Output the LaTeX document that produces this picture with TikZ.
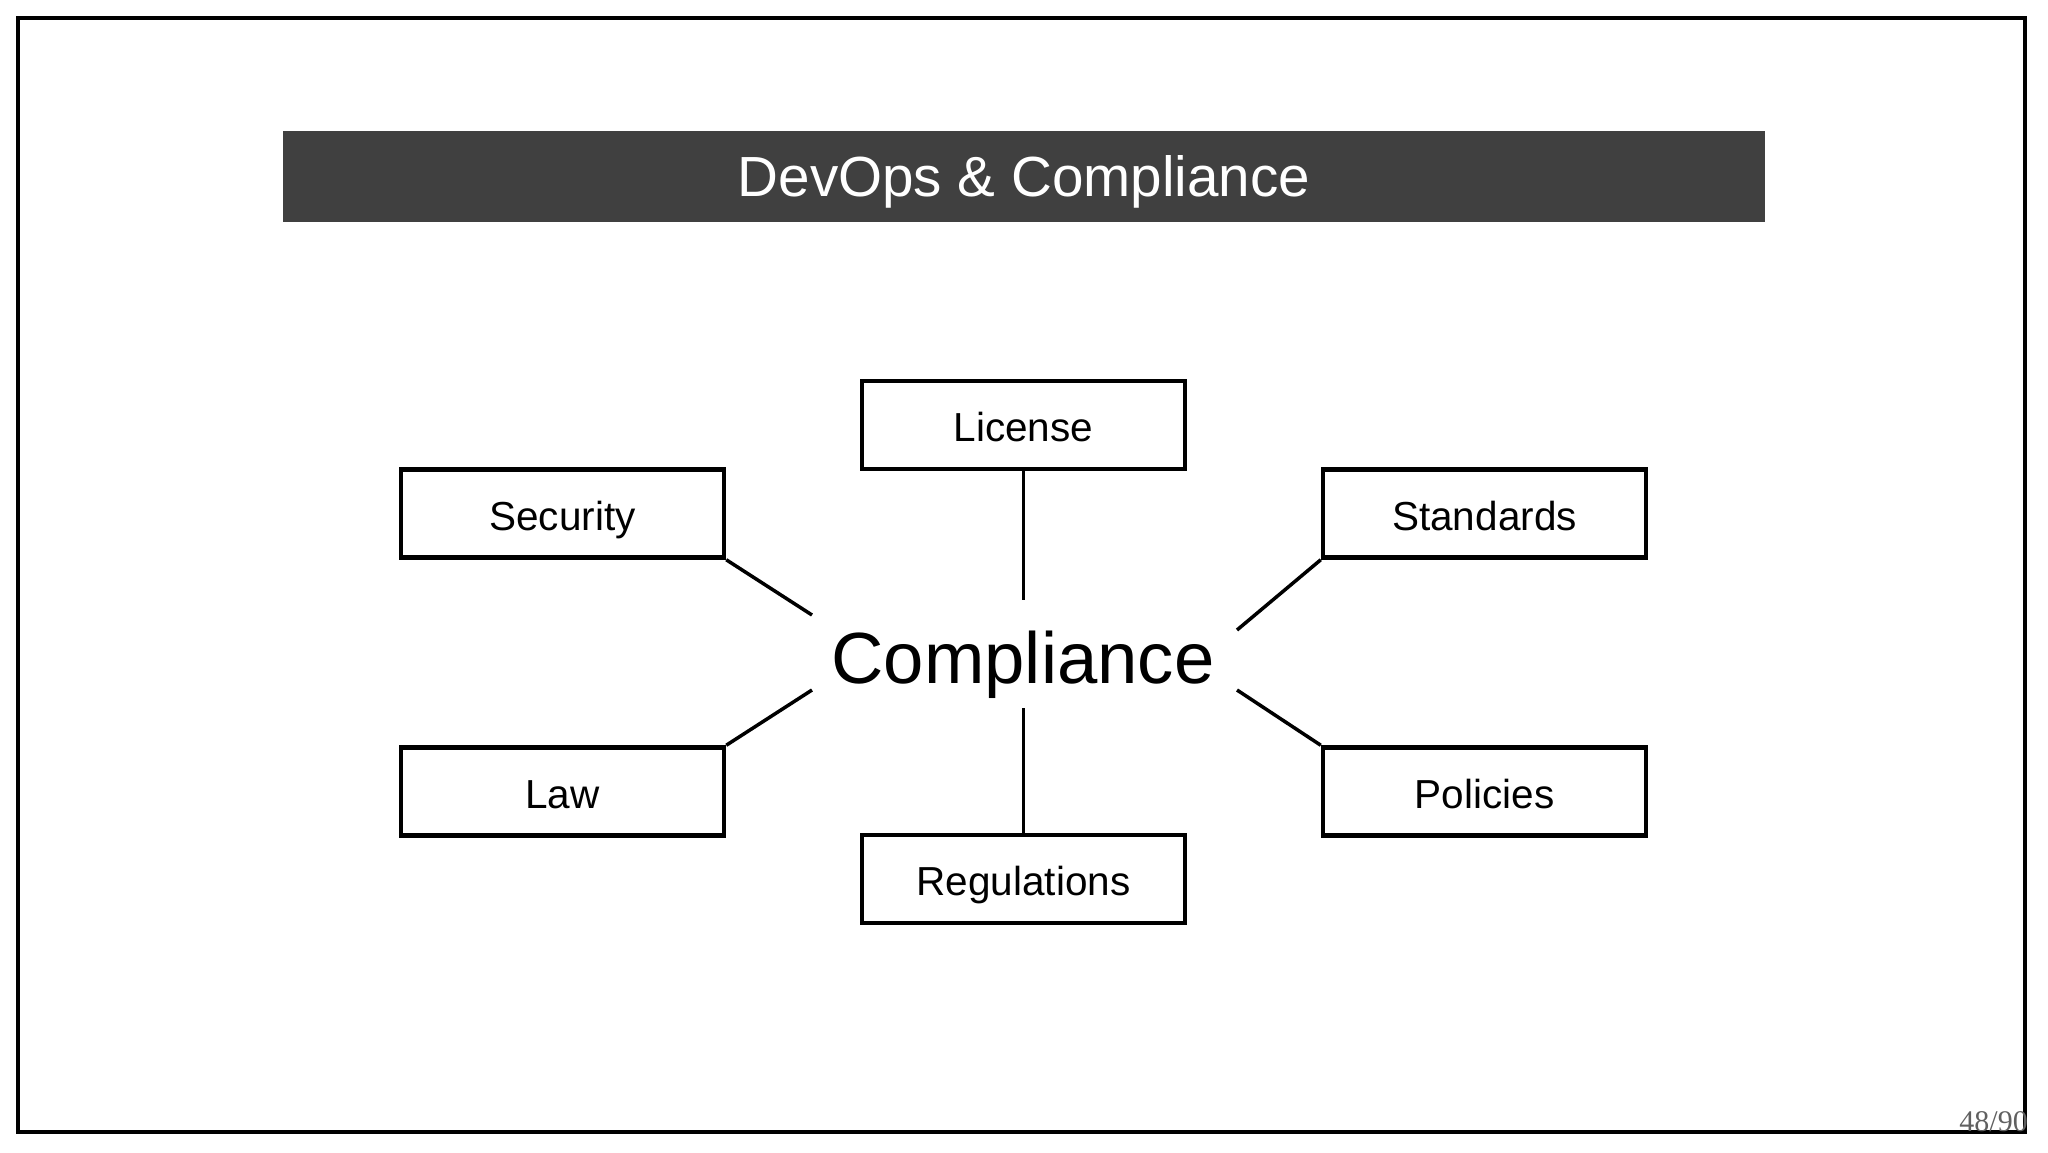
\documentclass[tikz,border=0pt]{standalone}
\usepackage{fontspec}
\setmainfont{Liberation Sans}
\newfontfamily\pagenofont{Liberation Serif}
\usepackage{xcolor}
\usetikzlibrary{positioning}
\definecolor{titlecolor}{RGB}{64,64,64}
\definecolor{pagenocolor}{RGB}{96,96,96}

\begin{document}
\begin{tikzpicture}[
    x=1pt, y=-1pt,
    topic/.style={rectangle, draw, line width=4.5pt, minimum width=323pt, minimum height=88pt, inner sep=0pt, text height=33pt, text depth=0pt, font=\fontsize{40.5}{46}\selectfont},
    link/.style={line width=3.5pt},
    titlebar/.style={rectangle, fill=titlecolor, text=white, minimum width=1482pt, minimum height=91pt, inner sep=0pt, text height=39pt, text depth=0pt, font=\fontsize{56.6}{64}\selectfont}
]
\useasboundingbox (0,0) rectangle (2048,1152);

% Slide frame
\draw[line width=3.5pt] (18,18) rectangle (2025,1132);

% Title
\node[titlebar] (title) at (1024,176.5) {DevOps \& Compliance};

% Centre word
\node[inner sep=0pt, text height=49.7pt, text depth=0pt, font=\fontsize{72.5}{80}\selectfont] (compliance) at (1023,658.5) {Compliance};

% Topics round the centre
\node[topic] (license) at (1023.5,425) {License};
\node[topic] (security) at (562.5,513.5) {Security};
\node[topic] (standards) at (1484.5,513.5) {Standards};
\node[topic] (law) at (562.5,791.5) {Law};
\node[topic] (policies) at (1484.5,791.5) {Policies};
\node[topic] (regulations) at (1023.5,879) {Regulations};

% Free ends next to the centre word
\coordinate (c_license) at (1023.5,600);
\coordinate (c_security) at (812,615);
\coordinate (c_standards) at (1237,630);
\coordinate (c_law) at (812,690);
\coordinate (c_policies) at (1237,690);
\coordinate (c_regulations) at (1023.5,708);

% Connectors
\draw[link] (license.south) -- (c_license);
\draw[link] (security.south east) -- (c_security);
\draw[link] (standards.south west) -- (c_standards);
\draw[link] (law.north east) -- (c_law);
\draw[link] (policies.north west) -- (c_policies);
\draw[link] (regulations.north) -- (c_regulations);

% Page number
\node[anchor=base east, text=pagenocolor, inner sep=0pt, font=\pagenofont\fontsize{30}{34}\selectfont] (pageno) at (2028,1131) {48/90};

\end{tikzpicture}
\end{document}
